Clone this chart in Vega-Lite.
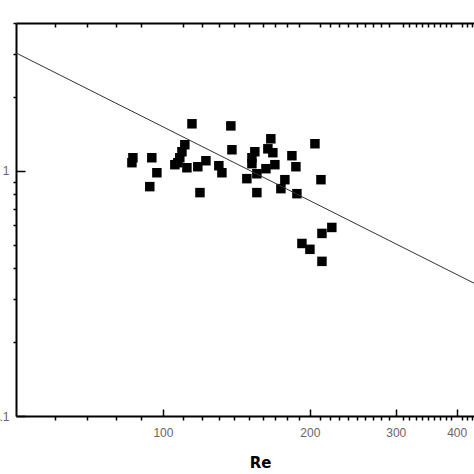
{
  "$schema": "https://vega.github.io/schema/vega-lite/v6.json",
  "autosize": {"type": "none"},
  "padding": {"left": 16, "top": 23, "right": 0, "bottom": 58},
  "width": 488,
  "height": 393,
  "background": "white",
  "config": {
    "view": {"stroke": null},
    "axis": {"grid": false, "domainColor": "black", "domainWidth": 2, "tickColor": "black", "tickWidth": 1.5, "labelFont": "Liberation Sans", "labelFontSize": 12, "labelColor": "#666666"}
  },
  "datasets": {
    "points": [
      {"Re": 114.7, "y": 1.553}, {"Re": 110.9, "y": 1.276}, {"Re": 109.4, "y": 1.195}, {"Re": 108.3, "y": 1.129},
      {"Re": 107.3, "y": 1.078}, {"Re": 105.8, "y": 1.058}, {"Re": 112.0, "y": 1.028}, {"Re": 117.9, "y": 1.038},
      {"Re": 122.5, "y": 1.098}, {"Re": 130.2, "y": 1.048}, {"Re": 132.1, "y": 0.981}, {"Re": 137.8, "y": 1.523},
      {"Re": 138.5, "y": 1.217}, {"Re": 148.6, "y": 0.928}, {"Re": 86.8, "y": 1.129}, {"Re": 86.4, "y": 1.078},
      {"Re": 94.9, "y": 1.129}, {"Re": 97.2, "y": 0.981}, {"Re": 94.0, "y": 0.861}, {"Re": 119.1, "y": 0.814},
      {"Re": 155.8, "y": 0.814}, {"Re": 154.3, "y": 1.195}, {"Re": 152.2, "y": 1.129}, {"Re": 152.2, "y": 1.068},
      {"Re": 155.8, "y": 0.972}, {"Re": 162.6, "y": 1.019}, {"Re": 169.6, "y": 1.058}, {"Re": 166.4, "y": 1.349},
      {"Re": 164.1, "y": 1.228}, {"Re": 168.0, "y": 1.184}, {"Re": 183.8, "y": 1.151}, {"Re": 187.3, "y": 1.038},
      {"Re": 177.8, "y": 0.919}, {"Re": 174.5, "y": 0.845}, {"Re": 188.2, "y": 0.806}, {"Re": 204.9, "y": 1.288},
      {"Re": 210.8, "y": 0.919}, {"Re": 221.9, "y": 0.587}, {"Re": 211.8, "y": 0.555}, {"Re": 192.7, "y": 0.505},
      {"Re": 200.1, "y": 0.478}, {"Re": 211.8, "y": 0.427}
    ],
    "fit": [{"Re": 50, "y": 3.02}, {"Re": 500, "y": 0.302}]
  },
  "layer": [
    {
      "data": {"name": "points"},
      "mark": {"type": "point", "shape": "square", "filled": true, "color": "black", "size": 90, "opacity": 1},
      "encoding": {
        "x": {"field": "Re", "type": "quantitative", "scale": {"type": "log", "domain": [50, 500], "nice": false},
          "axis": {"orient": "bottom", "title": "Re", "titleFont": "DejaVu Sans", "titleFontWeight": "bold", "titleFontSize": 15, "titleColor": "black", "titlePadding": 17,
            "values": [60,70,80,90,100,110,120,130,140,150,160,170,180,190,200,210,220,230,240,250,260,270,280,290,300,310,320,330,340,350,360,370,380,390,400,410,420,430,440,450,460,470,480,490],
            "tickSize": {"condition": {"test": "indexof([100,200,300,400], datum.value) >= 0", "value": -7}, "value": 4},
            "labelExpr": "indexof([100,200,300,400], datum.value) >= 0 ? format(datum.value, 'd') : ''",
            "labelPadding": 18}},
        "y": {"field": "y", "type": "quantitative", "scale": {"type": "log", "domain": [0.1, 4], "nice": false},
          "axis": {"orient": "left", "title": null,
            "values": [0.1,0.2,0.3,0.4,0.5,0.6,0.7,0.8,0.9,1,2,3,4],
            "tickSize": {"condition": {"test": "datum.value == 1 || datum.value == 0.1", "value": -9}, "value": 3},
            "labelExpr": "datum.value == 1 ? '1' : (datum.value == 0.1 ? '0.1' : '')",
            "labelPadding": 16}}
      }
    },
    {
      "data": {"name": "fit"},
      "mark": {"type": "line", "color": "#333333", "strokeWidth": 1},
      "encoding": {
        "x": {"field": "Re", "type": "quantitative", "scale": {"type": "log", "domain": [50, 500], "nice": false},
          "axis": {"orient": "top", "title": null, "labels": false,
            "values": [60,70,80,90,110,120,130,140,150,160,170,180,190,210,220,230,240,250,260,270,280,290,310,320,330,340,350,360,370,380,390,410,420,430,440,450,460,470,480,490],
            "tickSize": -4}},
        "y": {"field": "y", "type": "quantitative", "scale": {"type": "log", "domain": [0.1, 4], "nice": false}}
      }
    }
  ],
  "resolve": {"axis": {"x": "independent"}}
}
